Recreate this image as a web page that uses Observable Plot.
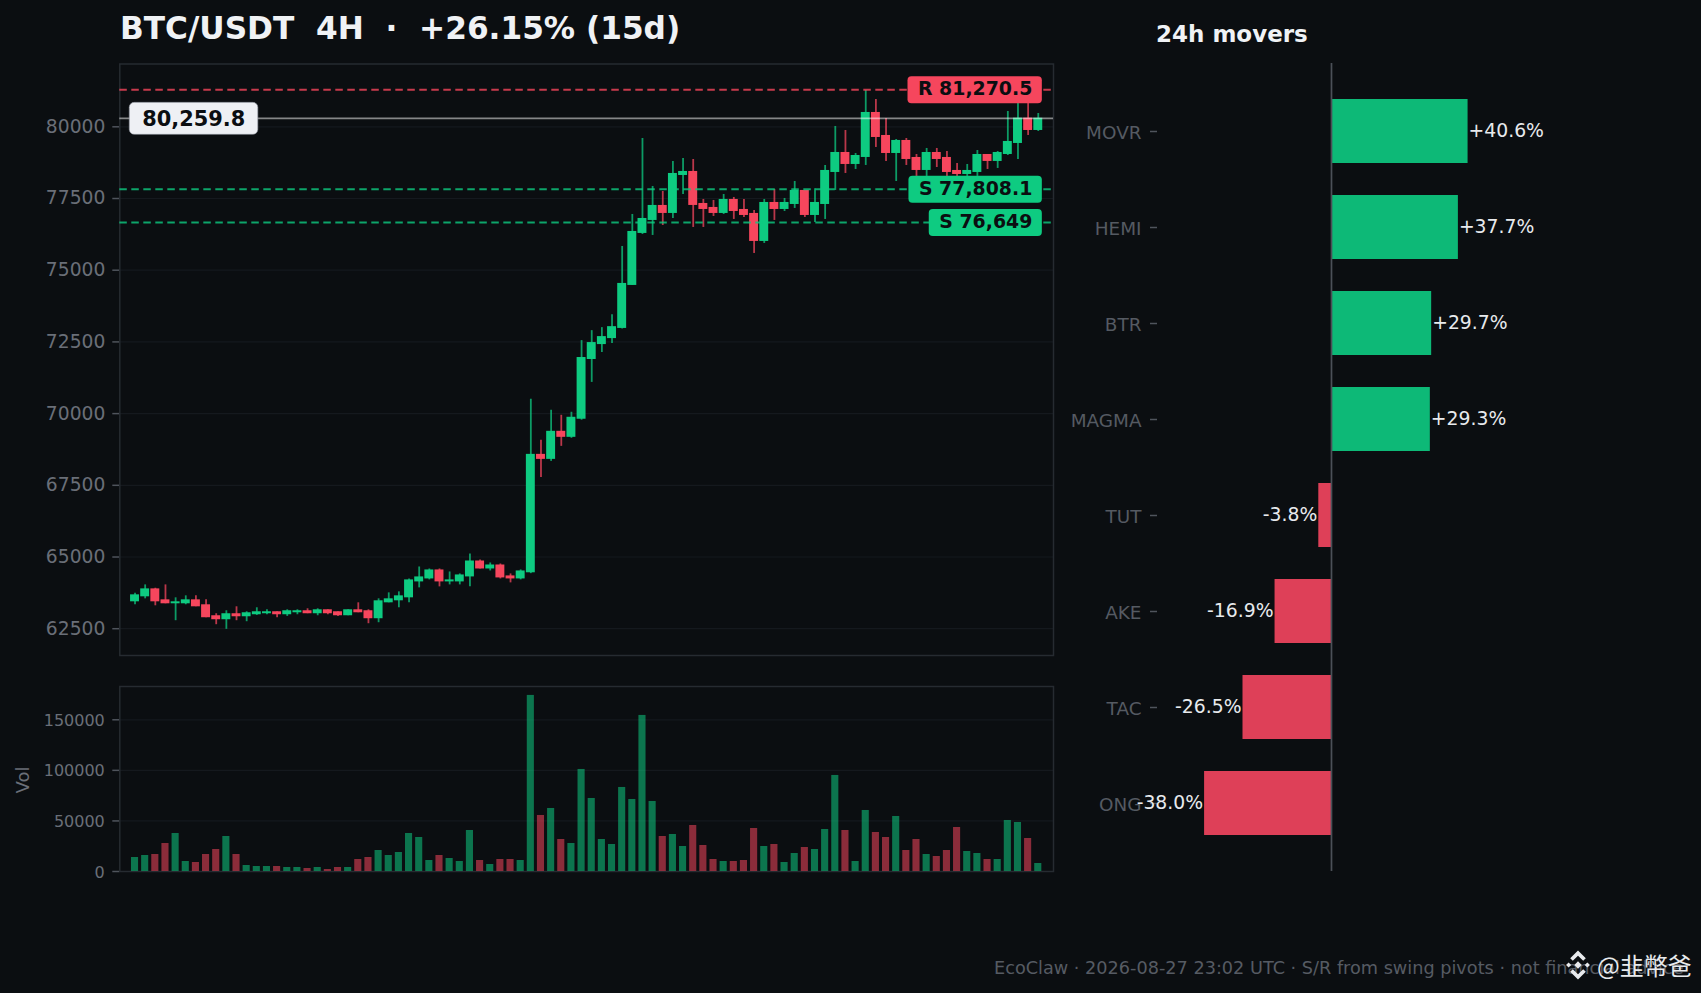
<!DOCTYPE html>
<html><head><meta charset="utf-8">
<script src="https://cdn.jsdelivr.net/npm/d3@7"></script>
<script src="https://cdn.jsdelivr.net/npm/@observablehq/plot@0.6"></script>
<style>
html,body{margin:0;padding:0;background:#0b0e11;width:1701px;height:993px;overflow:hidden;font-family:"DejaVu Sans",sans-serif}
.pos{position:absolute}
svg{background:transparent!important;overflow:visible}
#title{left:120px;top:10px;font:bold 31.2px "DejaVu Sans";color:#f0f2f5;white-space:pre;line-height:36px}
#mtitle{left:1156px;top:20px;font:bold 23px "DejaVu Sans";color:#f0f2f5;line-height:28px}
#foot{left:994px;top:957px;font:17.68px "DejaVu Sans";color:#565b63;white-space:pre;line-height:22px}
#wm{left:1565px;top:950px;display:flex;align-items:center;gap:6px;color:#e8eaed;font:24px "Noto Sans CJK TC";line-height:30px}
</style></head><body>
<div id="title" class="pos"></div>
<div id="mtitle" class="pos"></div>
<div id="price" class="pos" style="left:0;top:0"></div>
<div id="vol" class="pos" style="left:0;top:680px"></div>
<div id="movers" class="pos" style="left:1060px;top:0"></div>
<div id="foot" class="pos"></div>
<div id="wm" class="pos"><svg width="26" height="30" viewBox="-12.5 -14.4 25 28.8" style="overflow:visible"><g fill="#e8eaed"><path d="M0-3.5 3.5 0 0 3.5-3.5 0Z"/><path d="M-11.5 0-9 2.5-6.5 0-9-2.5Z"/><path d="M11.5 0 9 2.5 6.5 0 9-2.5Z"/><path d="M0-14 7.5-6.5 5-4 0-9-5-4-7.5-6.5Z"/><path d="M0 14 7.5 6.5 5 4 0 9-5 4-7.5 6.5Z"/></g></svg><span>@韭幣爸</span></div>
<script>
const titleText = "BTC/USDT  4H  ·  +26.15% (15d)";
const moversTitle = "24h movers";
const footText = "EcoClaw · 2026-08-27 23:02 UTC · S/R from swing pivots · not financial advice";

const opens = [63438,63612,63889,63507,63369,63369,63507,63334,62952,62813,63022,62917,62987,63022,63091,62987,63056,63126,63022,63160,63091,62952,63160,63126,62848,63403,63473,63577,64132,64236,64549,64132,64132,64306,64861,64583,64722,64341,64236,64450,68579,68404,69383,69173,69804,71887,72407,72616,72970,74469,76282,76735,77258,76979,78303,78443,77327,77188,76979,77467,77118,76979,76003,77362,77118,77292,77781,76909,77292,78408,79105,78687,78931,80500,79698,79070,79524,78931,78478,79105,78931,78478,78338,78408,79035,78792,79035,79419,80302,79872];
const highs = [63739,64028,63912,64028,63577,63646,63646,63507,63022,63126,63264,63091,63230,63160,63091,63160,63160,63195,63195,63160,63091,63160,63403,63160,63542,63750,63785,64236,64653,64583,64583,64479,64410,65104,64896,64792,64757,64410,64549,70501,69068,70117,69942,70047,72546,72893,72998,73449,75828,76944,79593,77920,77746,78792,78896,78861,77467,77432,77641,77537,77467,77083,77467,77815,77502,78094,77781,77839,78652,80012,79872,79070,81267,80953,80290,79558,79593,79035,79245,79245,79140,78722,78687,79175,79035,79140,80535,81100,81250,80465];
const lows = [63334,63542,63299,63369,62779,63334,63264,62883,62640,62478,62779,62744,62964,62987,62883,62929,62987,63022,62952,62987,62929,62952,63056,62674,62709,63403,63230,63403,63924,64202,63959,64028,64028,63959,64583,64514,64236,64098,64202,64420,67775,68334,68858,69138,69770,71088,72130,72442,72950,74469,76247,76212,76560,76804,77641,76491,76491,76874,76944,76770,76839,75584,75933,76735,77048,77153,76839,76665,76770,77781,78373,78513,78652,79280,78792,78094,78652,78269,78269,78582,78234,78245,78245,78269,78513,78548,79000,78861,79698,79837];
const closes = [63681,63889,63438,63369,63438,63507,63264,62883,62813,63022,62917,63056,63091,63091,62987,63126,63126,63022,63160,63022,62952,63160,63056,62848,63473,63542,63646,64202,64306,64549,64132,64202,64375,64861,64583,64722,64271,64236,64514,68579,68404,69383,69173,69872,71956,72477,72685,73032,74539,76351,76804,77258,76979,78373,78443,77258,77118,76979,77467,77048,76909,76003,77362,77118,77362,77781,76909,77362,78478,79105,78687,79000,80500,79628,79070,79524,78861,78478,79105,78861,78408,78338,78478,79035,78792,79105,79489,80302,79872,80300];
const volumes = [13847,15826,16815,27695,37586,9891,8902,16815,21760,34619,16815,5935,4946,4946,4946,3956,3956,2967,3956,1978,3956,3956,11869,13847,20771,15826,18793,37586,33629,10880,15826,12858,9891,40553,10880,6924,11869,11869,10880,174082,55390,62313,31651,27695,100888,72204,31651,26706,83084,71215,154300,69237,34619,36597,24728,45499,25717,11869,9891,9891,10880,42531,24728,26706,8902,17804,23738,21760,41542,94954,40553,9891,60335,38575,33629,54401,20771,31651,16815,14837,20771,43520,19782,17804,11869,11869,50444,48466,32640,7913];

const priceTicks = [62500,65000,67500,70000,72500,75000,77500,80000];
const volTicks = [0,50000,100000,150000];
const lastPrice = 80259.8;
const levelValues = [81270.5,77808.1,76649];
const levelLabels = ["R 81,270.5","S 77,808.1","S 76,649"];
const levelKinds = ["R","S","S"];

const moverNames = ["MOVR","HEMI","BTR","MAGMA","TUT","AKE","TAC","ONG"];
const moverValues = [40.6,37.7,29.7,29.3,-3.8,-16.9,-26.5,-38.0];

const GREEN="#0ecb81", RED="#f6465d", BG="#0b0e11", FRAME="#262b31", GRID="#15191e", TICK="#4f545c", TXT="#6a6f78";
const up = closes.map((c,i)=>c>=opens[i]);
const rows = opens.map((o,i)=>({i,o,h:highs[i],l:lows[i],c:closes[i],v:volumes[i],col:up[i]?GREEN:RED}));
const levels = levelValues.map((v,i)=>({v,label:levelLabels[i],kind:levelKinds[i],col:levelKinds[i]==="R"?RED:GREEN}));
document.getElementById("title").textContent=titleText;
document.getElementById("mtitle").textContent=moversTitle;
document.getElementById("foot").textContent=footText;

const ctx=document.createElement("canvas").getContext("2d");
const measure=(t,f)=>{ctx.font=f;return ctx.measureText(t).width};
const LF="bold 18.9px 'DejaVu Sans'", PF="bold 20.9px 'DejaVu Sans'";
const xDomain=[-1.5,90.5], edge=89.4, startEdge=-0.52;

const levelBox=l=>[
  Plot.rect([l],{x1:edge,x2:edge,y1:"v",y2:"v",fill:"col",rx:4,insetLeft:-(measure(l.label,LF)+20),insetTop:-13.5,insetBottom:-13.5}),
  Plot.text([l],{x:edge,y:"v",text:"label",textAnchor:"end",dx:-10,dy:-1,fill:BG,fontWeight:"bold",fontSize:18.9})
];

const price=Plot.plot({
  width:1060,height:660,marginLeft:119.3,marginRight:7,marginTop:63.5,marginBottom:5,
  style:{background:"transparent",fontFamily:"DejaVu Sans",fontSize:"18.7px"},
  x:{domain:xDomain,axis:null},
  y:{domain:[61566,82190],axis:null},
  marks:[
    Plot.ruleY(priceTicks,{stroke:GRID,strokeWidth:1.2}),
    Plot.axisY({ticks:priceTicks,tickFormat:"d",tickSize:7,tickPadding:7.5,stroke:TICK,fill:TXT,strokeWidth:1.5,label:null}),
    Plot.frame({stroke:FRAME,strokeWidth:1.5}),
    Plot.ruleX(rows,{x:"i",y1:"l",y2:"h",stroke:"col",strokeWidth:1.8,strokeOpacity:.75}),
    Plot.rect(rows,{x1:d=>d.i-.44,x2:d=>d.i+.44,y1:"o",y2:"c",fill:"col"}),
    Plot.ruleY(levels,{y:"v",stroke:"col",strokeWidth:2,strokeOpacity:.8,strokeDasharray:"7.5,4.5",dy:-.5}),
    Plot.ruleY([lastPrice],{stroke:"#ffffff",strokeOpacity:.5,strokeWidth:1.7,dy:-1}),
    ...levels.flatMap(levelBox),
    Plot.rect([lastPrice],{x1:startEdge,x2:startEdge,y1:d=>d,y2:d=>d,fill:"#eef0f4",stroke:"#8a8f98",strokeWidth:.6,rx:5,insetRight:-(measure("80,259.8",PF)+25.5),insetTop:-16,insetBottom:-16,dy:-.5}),
    Plot.text([lastPrice],{x:startEdge,y:d=>d,text:()=>"80,259.8",textAnchor:"start",dx:12.5,dy:-.5,fill:BG,fontWeight:"bold",fontSize:20.9})
  ]
});
document.getElementById("price").append(price);

const vol=Plot.plot({
  width:1060,height:200,marginLeft:119.3,marginRight:7,marginTop:6,marginBottom:9,
  style:{background:"transparent",fontFamily:"DejaVu Sans",fontSize:"16px"},
  x:{domain:xDomain,axis:null},
  y:{domain:[0,182900],axis:null},
  marks:[
    Plot.ruleY(volTicks.slice(1),{stroke:GRID,strokeWidth:1.2}),
    Plot.axisY({ticks:volTicks,text:null,tickSize:7,stroke:TICK,strokeWidth:1.5,label:null}),
    Plot.axisY({ticks:volTicks,tickFormat:"d",tickSize:0,tickPadding:15,fill:TXT,dy:1,label:null}),
    Plot.text(["Vol"],{text:d=>d,frameAnchor:"left",textAnchor:"middle",rotate:-90,dx:-97,dy:1,fontSize:18,fill:TXT}),
    Plot.frame({stroke:FRAME,strokeWidth:1.5}),
    Plot.rect(rows,{x1:d=>d.i-.35,x2:d=>d.i+.35,y1:0,y2:"v",fill:"col",fillOpacity:.55})
  ]
});
document.getElementById("vol").append(vol);

const moverRows=moverNames.map((name,i)=>({name,v:moverValues[i]}));
const fmt=v=>(v>0?"+":"")+v.toFixed(1)+"%";
const movers=Plot.plot({
  width:641,height:880,marginLeft:97,marginRight:1,marginTop:63,marginBottom:9,
  style:{background:"transparent",fontFamily:"DejaVu Sans",fontSize:"18.4px"},
  x:{domain:[-52.1,110.5],axis:null},
  y:{domain:moverNames,paddingInner:1/3,paddingOuter:.375,round:false,axis:null},
  marks:[
    Plot.axisY({text:null,tickSize:7,stroke:TICK,strokeWidth:1.5,label:null}),
    Plot.axisY({tickSize:0,tickPadding:16,fill:"#555a62",dy:1.5,label:null}),
    Plot.barX(moverRows,{y:"name",x:"v",insetRight:-1,fill:d=>d.v>0?"#0db977":"#de4058"}),
    Plot.ruleX([0],{stroke:"#4b5058",strokeWidth:1.7}),
    Plot.text(moverRows.filter(d=>d.v>0),{y:"name",x:"v",text:d=>fmt(d.v),textAnchor:"start",dx:1.5,dy:-1,fill:"#e8eaed",fontSize:18.8}),
    Plot.text(moverRows.filter(d=>d.v<0),{y:"name",x:"v",text:d=>fmt(d.v),textAnchor:"end",dx:-1.5,dy:-1,fill:"#e8eaed",fontSize:18.8})
  ]
});
document.getElementById("movers").append(movers);
</script>
</body></html>
